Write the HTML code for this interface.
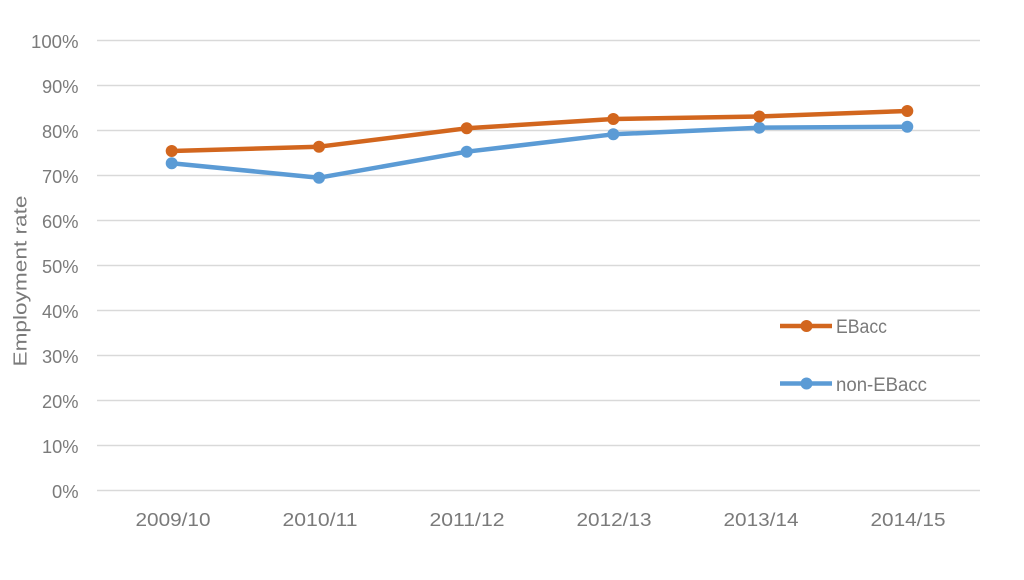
<!DOCTYPE html>
<html>
<head>
<meta charset="utf-8">
<style>
  html,body{margin:0;padding:0;background:#fff;}
  svg{display:block;}
  text{font-family:"Liberation Sans",sans-serif;fill:#7a7a7a;}
</style>
</head>
<body>
<svg width="1024" height="580" viewBox="0 0 1024 580" xmlns="http://www.w3.org/2000/svg">
  <rect width="1024" height="580" fill="#fff"/>
  <!-- gridlines -->
  <g stroke="#d9d9d9" stroke-width="1.6">
    <line x1="97" x2="980" y1="40.5" y2="40.5"/>
    <line x1="97" x2="980" y1="85.5" y2="85.5"/>
    <line x1="97" x2="980" y1="130.5" y2="130.5"/>
    <line x1="97" x2="980" y1="175.5" y2="175.5"/>
    <line x1="97" x2="980" y1="220.5" y2="220.5"/>
    <line x1="97" x2="980" y1="265.5" y2="265.5"/>
    <line x1="97" x2="980" y1="310.5" y2="310.5"/>
    <line x1="97" x2="980" y1="355.5" y2="355.5"/>
    <line x1="97" x2="980" y1="400.5" y2="400.5"/>
    <line x1="97" x2="980" y1="445.5" y2="445.5"/>
    <line x1="97" x2="980" y1="490.5" y2="490.5"/>
  </g>
  <!-- y tick labels -->
  <g font-size="18" text-anchor="end">
    <text x="78.5" y="48" textLength="47.5" lengthAdjust="spacingAndGlyphs">100%</text>
    <text x="78.5" y="93" textLength="36.5" lengthAdjust="spacingAndGlyphs">90%</text>
    <text x="78.5" y="138" textLength="36.5" lengthAdjust="spacingAndGlyphs">80%</text>
    <text x="78.5" y="183" textLength="36.5" lengthAdjust="spacingAndGlyphs">70%</text>
    <text x="78.5" y="228" textLength="36.5" lengthAdjust="spacingAndGlyphs">60%</text>
    <text x="78.5" y="273" textLength="36.5" lengthAdjust="spacingAndGlyphs">50%</text>
    <text x="78.5" y="318" textLength="36.5" lengthAdjust="spacingAndGlyphs">40%</text>
    <text x="78.5" y="363" textLength="36.5" lengthAdjust="spacingAndGlyphs">30%</text>
    <text x="78.5" y="408" textLength="36.5" lengthAdjust="spacingAndGlyphs">20%</text>
    <text x="78.5" y="453" textLength="36.5" lengthAdjust="spacingAndGlyphs">10%</text>
    <text x="78.5" y="498" textLength="26.5" lengthAdjust="spacingAndGlyphs">0%</text>
  </g>
  <!-- y axis title -->
  <text transform="translate(26.5,281) rotate(-90)" font-size="18" text-anchor="middle" textLength="171" lengthAdjust="spacingAndGlyphs">Employment rate</text>
  <!-- x labels -->
  <g font-size="18.5" text-anchor="middle">
    <text x="173" y="526" textLength="75" lengthAdjust="spacingAndGlyphs">2009/10</text>
    <text x="320" y="526" textLength="75" lengthAdjust="spacingAndGlyphs">2010/11</text>
    <text x="467" y="526" textLength="75" lengthAdjust="spacingAndGlyphs">2011/12</text>
    <text x="614" y="526" textLength="75" lengthAdjust="spacingAndGlyphs">2012/13</text>
    <text x="761" y="526" textLength="75" lengthAdjust="spacingAndGlyphs">2013/14</text>
    <text x="908" y="526" textLength="75" lengthAdjust="spacingAndGlyphs">2014/15</text>
  </g>
  <!-- non-EBacc series -->
  <polyline fill="none" stroke="#5b9bd5" stroke-width="4.5" stroke-linejoin="round"
    points="171.7,163.3 319,177.7 466.7,151.7 613.3,134.3 759.3,127.7 907.3,126.7"/>
  <g fill="#5b9bd5">
    <circle cx="171.7" cy="163.3" r="6"/>
    <circle cx="319" cy="177.7" r="6"/>
    <circle cx="466.7" cy="151.7" r="6"/>
    <circle cx="613.3" cy="134.3" r="6"/>
    <circle cx="759.3" cy="127.7" r="6"/>
    <circle cx="907.3" cy="126.7" r="6"/>
  </g>
  <!-- EBacc series -->
  <polyline fill="none" stroke="#d2661e" stroke-width="4.5" stroke-linejoin="round"
    points="171.7,151 319,146.7 466.7,128.3 613.3,119 759.3,116.5 907.3,111"/>
  <g fill="#d2661e">
    <circle cx="171.7" cy="151" r="6"/>
    <circle cx="319" cy="146.7" r="6"/>
    <circle cx="466.7" cy="128.3" r="6"/>
    <circle cx="613.3" cy="119" r="6"/>
    <circle cx="759.3" cy="116.5" r="6"/>
    <circle cx="907.3" cy="111" r="6"/>
  </g>
  <!-- legend -->
  <line x1="780" x2="832" y1="326" y2="326" stroke="#d2661e" stroke-width="4.5"/>
  <circle cx="806.5" cy="326" r="6" fill="#d2661e"/>
  <text x="836" y="333" font-size="19" textLength="51" lengthAdjust="spacingAndGlyphs">EBacc</text>
  <line x1="780" x2="832" y1="383.5" y2="383.5" stroke="#5b9bd5" stroke-width="4.5"/>
  <circle cx="806.5" cy="383.5" r="6" fill="#5b9bd5"/>
  <text x="836" y="391" font-size="19" textLength="91" lengthAdjust="spacingAndGlyphs">non-EBacc</text>
</svg>
</body>
</html>
